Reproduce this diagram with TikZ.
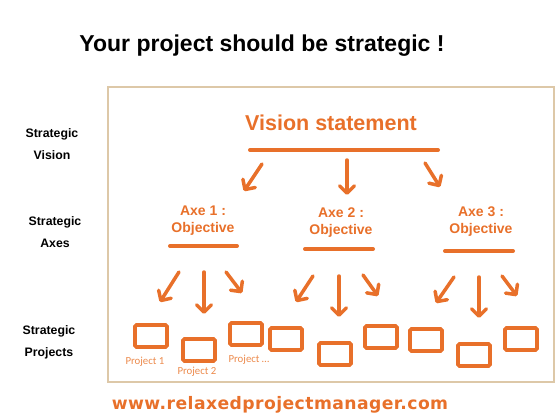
\documentclass[tikz,border=0pt]{standalone}
\usepackage{fontspec}
\setmainfont{Liberation Sans}
\newfontfamily\calibrifont{Carlito}
\newfontfamily\webfont[LetterSpace=2.5]{DejaVu Sans}
\usetikzlibrary{arrows.meta}

\definecolor{rpmorange}{HTML}{E8702A}
\definecolor{rpmlight}{HTML}{EC8A4C}
\definecolor{rpmframe}{HTML}{DDC8A8}

\begin{document}
\begin{tikzpicture}[x=1pt,y=-1pt,
	bar/.style={rpmorange,line width=4pt,line cap=round},
	arr/.style={rpmorange,line width=3.5pt,line cap=round,-{Straight Barb[angle=90:7pt 1,round]}},
	projbox/.style={draw=rpmorange,line width=3.8pt,rounded corners=1.5pt,fill=white,minimum width=32pt,minimum height=22pt,inner sep=0pt},
	axe/.style={text=rpmorange,font=\bfseries\fontsize{14}{17}\selectfont,align=center},
	level/.style={font=\bfseries\fontsize{12.3}{22}\selectfont,align=center},
	plabel/.style={text=rpmlight,font=\calibrifont\fontsize{10.8}{12}\selectfont}]
		\useasboundingbox (0,0) rectangle (560,420);
		\draw[rpmframe,line width=1.5pt] (108,87) rectangle (554,382);

		\node[font=\bfseries\fontsize{23}{26}\selectfont] (title) at (262,46) {Your project should be strategic !};

		\node[level] (lvlvision) at (52,144) {Strategic\\Vision};
		\node[level] (lvlaxes) at (55,232) {Strategic\\Axes};
		\node[level] (lvlprojects) at (49,342) {Strategic\\Projects};

		\node[text=rpmorange,font=\bfseries\fontsize{21.5}{24}\selectfont] (vision) at (331,123) {Vision statement};
		\draw[bar] (250,150) -- (438,150);

		\node[axe] (axe1) at (203,221) {Axe 1 :\\Objective};
		\node[axe] (axe2) at (341,223) {Axe 2 :\\Objective};
		\node[axe] (axe3) at (481,222) {Axe 3 :\\Objective};
		\draw[bar] (170,246) -- (237,246);
		\draw[bar] (305,249) -- (373,249);
		\draw[bar] (445,251) -- (513,251);

		\foreach \xa/\ya/\xb/\yb in {262/164/244/191, 347/160/347/195, 425/163/440/187,
			179/272/160/302, 204/272/204/314, 226/272/242/293,
			313/276/296/302, 339/276/339/317, 363/275/378/296,
			454/277/436/303, 479/277/479/318, 502/276/517/296}
			\draw[arr] (\xa,\ya) -- (\xb,\yb);

		\foreach \x/\y [count=\i] in {151/336, 199/350, 246/334, 286/339, 335/354, 381/337, 426/340, 474/355, 521/339}
			\node[projbox] (p\i) at (\x,\y) {};

		\node[plabel] (plab1) at (145,362) {Project 1};
		\node[plabel] (plab2) at (197,372) {Project 2};
		\node[plabel] (plab3) at (249,360) {Project \dots};

		\node[text=rpmorange,font=\webfont\bfseries\fontsize{17.2}{20}\selectfont] (footer) at (280,405) {www.relaxedprojectmanager.com};
	\end{tikzpicture}
\end{document}
